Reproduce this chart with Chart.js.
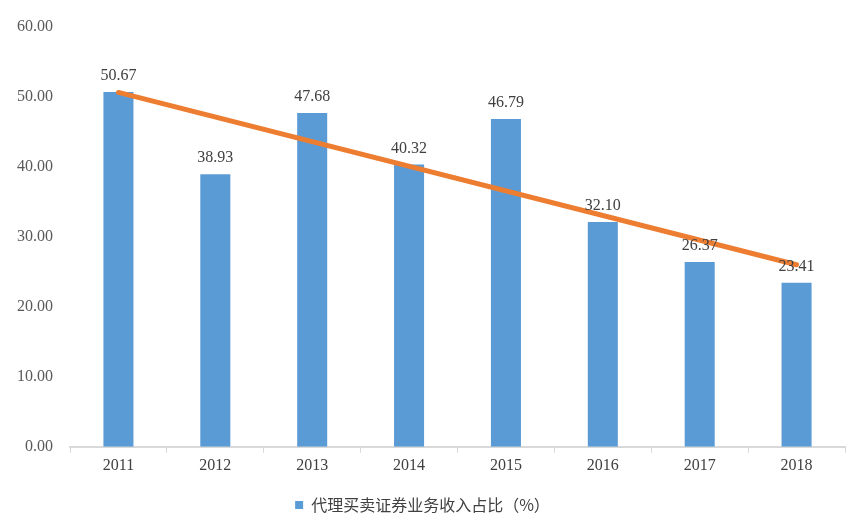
<!DOCTYPE html>
<html lang="zh">
<head>
  <meta charset="UTF-8">
  <title>代理买卖证券业务收入占比</title>
  <style>
    html, body { margin: 0; padding: 0; background: #fff; }
    .wrap { width: 865px; height: 531px; }
  </style>
</head>
<body>
  <div class="wrap">
    <canvas id="chart" width="865" height="531"></canvas>
  </div>

  <script src="https://cdn.jsdelivr.net/npm/chart.js"></script>
  <script>
    // data
    const years = ['2011', '2012', '2013', '2014', '2015', '2016', '2017', '2018'];
    const shareValues = [50.67, 38.93, 47.68, 40.32, 46.79, 32.10, 26.37, 23.41];
    // trend line end points
    const trendValues = [50.6, null, null, null, null, null, null, 26.0];
    const seriesName = '代理买卖证券业务收入占比（%）';

    // value labels above the bars
    const barLabels = {
      id: 'barLabels',
      afterDatasetsDraw(chart) {
        const ctx = chart.ctx;
        const meta = chart.getDatasetMeta(1);
        ctx.save();
        ctx.font = '16px "Liberation Serif", "Times New Roman", serif';
        ctx.fillStyle = '#404040';
        ctx.textAlign = 'center';
        ctx.textBaseline = 'bottom';
        meta.data.forEach((bar, i) => {
          ctx.fillText(shareValues[i].toFixed(2), bar.x, bar.y - 8);
        });
        ctx.restore();
      }
    };

    const ctx = document.getElementById('chart').getContext('2d');

    new Chart(ctx, {
      data: {
        labels: years,
        datasets: [
          {
            type: 'line',
            label: 'trend',
            data: trendValues,
            spanGaps: true,
            borderColor: '#ED7D31',
            borderWidth: 5,
            borderCapStyle: 'round',
            pointRadius: 0,
            fill: false,
            order: 0
          },
          {
            type: 'bar',
            label: seriesName,
            data: shareValues,
            backgroundColor: '#5B9BD5',
            categoryPercentage: 0.62,
            barPercentage: 0.5,
            order: 1
          }
        ]
      },
      options: {
        responsive: false,
        animation: false,
        layout: { padding: { left: 0, right: 20, top: 10, bottom: 8 } },
        plugins: {
          tooltip: { enabled: false },
          legend: {
            position: 'bottom',
            labels: {
              filter: (item) => item.text !== 'trend',
              boxWidth: 8,
              boxHeight: 8,
              color: '#404040',
              padding: 19,
              font: { family: '"Noto Sans CJK SC", sans-serif', size: 16 }
            }
          }
        },
        scales: {
          x: {
            offset: true,
            grid: { display: true, drawOnChartArea: false, tickLength: 6, color: '#d9d9d9', offset: true },
            border: { display: true, color: '#d9d9d9', width: 2 },
            ticks: {
              color: '#404040',
              padding: 3,
              font: { family: '"Liberation Serif", "Times New Roman", serif', size: 16 }
            }
          },
          y: {
            min: 0,
            max: 60,
            grid: { display: false, drawTicks: false },
            border: { display: false },
            ticks: {
              stepSize: 10,
              padding: 17,
              color: '#595959',
              font: { family: '"Liberation Serif", "Times New Roman", serif', size: 16 },
              callback: (v) => v.toFixed(2)
            }
          }
        }
      },
      plugins: [barLabels]
    });
  </script>
</body>
</html>
